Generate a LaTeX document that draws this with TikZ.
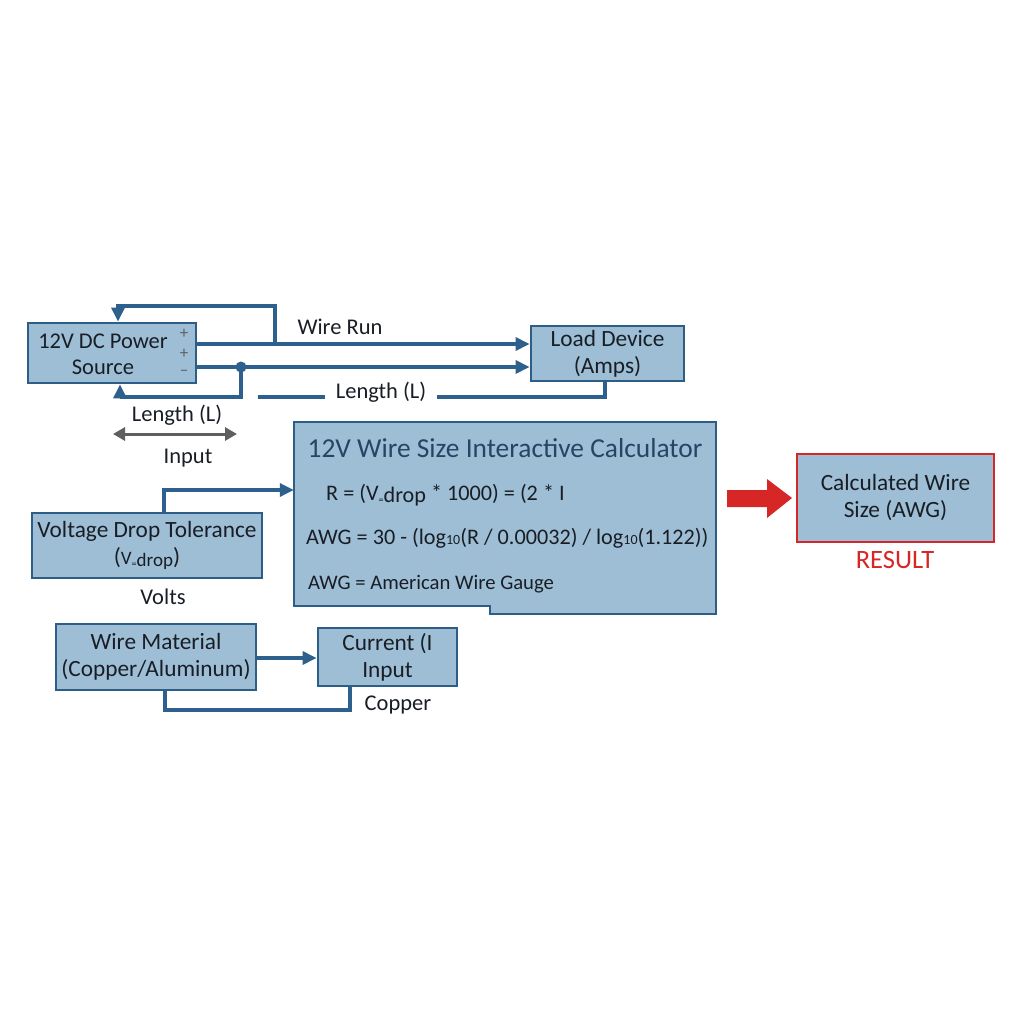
\documentclass[tikz,border=0pt]{standalone}
\usepackage{fontspec}
\setmainfont{Carlito}
\usetikzlibrary{arrows.meta}
\definecolor{boxfill}{RGB}{158,190,213}
\definecolor{boxline}{RGB}{45,94,135}
\definecolor{wirec}{RGB}{45,96,140}
\definecolor{titlec}{RGB}{38,68,100}
\definecolor{txtc}{RGB}{25,30,38}
\definecolor{redc}{RGB}{214,38,38}
\definecolor{grayc}{RGB}{95,95,95}
\tikzset{
  blk/.style={draw=boxline,fill=boxfill,line width=2.8pt,align=center,inner sep=0pt,text=txtc,font=\fontsize{23.3}{27}\selectfont},
  wire/.style={draw=wirec,line width=3.2pt},
  tip/.style={-{Triangle[length=14pt,width=13pt]}},
  lbl/.style={text=txtc,font=\fontsize{22.5}{26}\selectfont,inner sep=0pt},
  sgn/.style={text=txtc!70,font=\fontsize{17}{17}\selectfont,inner sep=0pt},
  frm/.style={text=txtc,font=\fontsize{22.2}{26}\selectfont,inner sep=0pt,anchor=west}
}
\newcommand{\vdropsub}{V\raisebox{-3pt}{\fontsize{10}{10}\selectfont =}\raisebox{-2pt}{drop}}
\newcommand{\logten}{log{\fontsize{14}{14}\selectfont 10}}
\begin{document}
\begin{tikzpicture}[x=1pt,y=-1pt]
\useasboundingbox[fill=white] (0,0) rectangle (1024,1024);
% power source
\node[blk,minimum width=168pt,minimum height=60pt] (ps) at (112,353) {};
\node[lbl,align=center,font=\fontsize{22.5}{26}\selectfont] (pst) at (103,354) {12V DC Power\\Source};
\node[sgn] (p1) at (184,334) {+};
\node[sgn] (p2) at (184,354) {+};
\node[sgn] (p3) at (184,373) {–};
% load
\node[blk,minimum width=153pt,minimum height=55pt] (load) at (607.5,353.5) {Load Device\\(Amps)};
% wires
\draw[wire,tip] ([yshift=9pt]ps.east) -- ([yshift=9pt]ps.east -| load.west);
\draw[wire,tip] ([yshift=-14pt]ps.east) -- ([yshift=-14pt]ps.east -| load.west);
\coordinate (tw) at (275,344);
\coordinate (tl) at (118,306);
\draw[wire,tip] (tw) |- (tl) -- (tl |- ps.north);
\coordinate (dot) at (241,367);
\coordinate (bl) at (120,397);
\fill[wirec] (dot) circle (5.5pt);
\draw[wire,tip] (dot) |- (bl) -- (bl |- ps.south);
\node[lbl] (wr) at (340,327) {Wire Run};
\coordinate (la) at (258,397);
\coordinate (lb) at (325,397);
\coordinate (lc) at (437,397);
\coordinate (ld) at (605,397);
\draw[wire] (la) -- (lb);
\draw[wire] (lc) -- (ld) -- (ld |- load.south);
\node[lbl] (len2) at (381,392) {Length (L)};
% length input
\node[lbl] (len1) at (177,415) {Length (L)};
\coordinate (da) at (113,434);
\coordinate (db) at (237,434);
\draw[draw=grayc,line width=3pt,{Triangle[length=12pt,width=13pt]}-{Triangle[length=12pt,width=13pt]}] (da) -- (db);
\node[lbl] (inp) at (188,458) {Input};
% calculator
\node[minimum width=422pt,minimum height=192pt,inner sep=0pt] (calc) at (505,518) {};
\draw[draw=boxline,fill=boxfill,line width=2.8pt] (294,422) -- (716,422) -- (716,614) -- (490,614) -- (490,606) -- (294,606) -- cycle;
\node[text=titlec,font=\fontsize{27.4}{31}\selectfont,inner sep=0pt] (ct) at (505,448) {12V Wire Size Interactive Calculator};
\node[frm] (f1) at (326,495) {R = (\vdropsub{} * 1000) = (2 * I};
\node[frm] (f2) at (306,538) {AWG = 30 - (\logten(R / 0.00032) / \logten(1.122))};
\node[frm,font=\fontsize{20.7}{24}\selectfont] (f3) at (308,584) {AWG = American Wire Gauge};
% voltage drop
\node[blk,minimum width=230pt,minimum height=65pt] (volt) at (147,545.5) {Voltage Drop Tolerance\\({\fontsize{19}{22}\selectfont\vdropsub})};
\node[lbl] (volts) at (163,597) {Volts};
\coordinate (vt) at (164,490);
\draw[wire,tip] (vt |- volt.north) -- (vt) -- (vt -| calc.west);
% material and current
\node[blk,minimum width=200pt,minimum height=66pt] (mat) at (156,657) {Wire Material\\(Copper/Aluminum)};
\node[blk,minimum width=139pt,minimum height=58pt] (cur) at (387.5,657) {Current (I\\Input};
\draw[wire,tip] ([yshift=-1pt]mat.east) -- ([yshift=-1pt]mat.east -| cur.west);
\coordinate (ma) at (165,710);
\coordinate (mb) at (350,710);
\draw[wire] (ma |- mat.south) -- (ma) -- (mb) -- (mb |- cur.south);
\node[lbl] (cop) at (398,705) {Copper};
% result
\node[blk,draw=redc,minimum width=197pt,minimum height=88pt] (res) at (895.5,498) {Calculated Wire\\Size (AWG)};
\node[text=redc,font=\fontsize{26.5}{30}\selectfont,inner sep=0pt] (rl) at (895,560) {RESULT};
\fill[redc] (727,490) -- (767,490) -- (767,479) -- (792,498) -- (767,518) -- (767,507) -- (727,507) -- cycle;
\end{tikzpicture}
\end{document}
